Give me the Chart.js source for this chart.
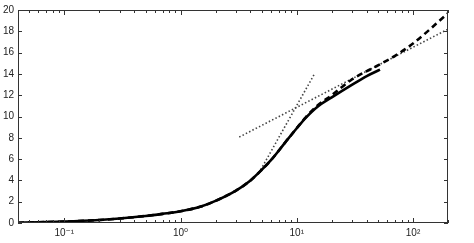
<!DOCTYPE html>
<html>
<head>
<meta charset="utf-8">
<script src="https://cdn.jsdelivr.net/npm/chart.js@4.4.1/dist/chart.umd.min.js"></script>
<style>
  html, body { margin: 0; padding: 0; background: #fff; }
  canvas { display: block; }
</style>
</head>
<body>
<canvas id="myChart" width="474" height="243"></canvas>
<script>
// values
const solidX = [0.04, 0.06, 0.1, 0.2, 0.3, 0.5, 0.7, 1, 1.5, 2, 3, 4, 5, 6, 8, 10, 12, 15, 20, 30, 40, 52];
const solidY = [0.03, 0.07, 0.13, 0.28, 0.42, 0.66, 0.86, 1.1, 1.55, 2.08, 3.05, 4.0, 5.0, 5.9, 7.6, 8.9, 9.9, 10.9, 11.8, 13.0, 13.8, 14.4];

const dashedX = [0.04, 0.06, 0.1, 0.2, 0.3, 0.5, 0.7, 1, 1.5, 2, 3, 4, 5, 6, 8, 10, 12, 15, 20, 30, 50, 70, 100, 200];
const dashedY = [0.03, 0.07, 0.13, 0.28, 0.42, 0.66, 0.86, 1.1, 1.55, 2.08, 3.05, 4.0, 5.0, 5.9, 7.6, 8.9, 9.95, 11.0, 12.0, 13.5, 14.8, 15.7, 16.85, 19.7];

const steepX = [4.9, 14.2];
const steepY = [5.0, 14.0];

const shallowX = [3.2, 200];
const shallowY = [8.07, 18.2];

const xTicks = [0.1, 1, 10, 100];
const xTickLabels = ['10\u207B\u00B9', '10\u2070', '10\u00B9', '10\u00B2'];

function pts(xs, ys) {
  return xs.map((x, i) => ({ x: x, y: ys[i] }));
}

const frame = {
  id: 'frame',
  afterDraw(chart) {
    const ctx = chart.ctx;
    const a = chart.chartArea;
    const xs = chart.scales.x;
    const ys = chart.scales.y;
    ctx.save();
    ctx.strokeStyle = '#333';
    ctx.lineWidth = 1;
    ctx.beginPath();
    // y ticks, both sides
    for (let v = 0; v <= 20; v += 2) {
      const py = Math.round(ys.getPixelForValue(v)) + 0.5;
      ctx.moveTo(a.left, py); ctx.lineTo(a.left + 4, py);
      ctx.moveTo(a.right, py); ctx.lineTo(a.right - 4, py);
    }
    // x ticks, major and minor, top and bottom
    for (let d = 0.01; d <= 100; d *= 10) {
      for (let k = 1; k <= 9; k++) {
        const v = k * d;
        if (v < xs.min || v > xs.max) continue;
        const px = Math.round(xs.getPixelForValue(v)) + 0.5;
        const len = k === 1 ? 5 : 3;
        ctx.moveTo(px, a.bottom); ctx.lineTo(px, a.bottom - len);
        ctx.moveTo(px, a.top); ctx.lineTo(px, a.top + len);
      }
    }
    ctx.stroke();
    ctx.strokeRect(Math.round(a.left) + 0.5, Math.round(a.top) + 0.5,
      Math.round(a.right - a.left) - 1, Math.round(a.bottom - a.top) - 1);
    ctx.restore();
  }
};

const ctx = document.getElementById('myChart').getContext('2d');
const myChart = new Chart(ctx, {
  type: 'line',
  data: {
    datasets: [
      {
        label: 'dashed',
        data: pts(dashedX, dashedY),
        borderColor: '#000',
        borderWidth: 2.6,
        borderDash: [6, 4],
        cubicInterpolationMode: 'monotone'
      },
      {
        label: 'solid',
        data: pts(solidX, solidY),
        borderColor: '#000',
        borderWidth: 2.6,
        cubicInterpolationMode: 'monotone'
      },
      {
        label: 'steep',
        data: pts(steepX, steepY),
        borderColor: '#444',
        borderWidth: 1.6,
        borderDash: [1.5, 2.2]
      },
      {
        label: 'shallow',
        data: pts(shallowX, shallowY),
        borderColor: '#444',
        borderWidth: 1.6,
        borderDash: [1.5, 2.2]
      }
    ]
  },
  options: {
    responsive: false,
    animation: false,
    devicePixelRatio: 1,
    layout: { padding: { top: 9, right: 26, left: 0, bottom: 0 } },
    elements: { point: { radius: 0 } },
    plugins: { legend: { display: false }, tooltip: { enabled: false } },
    scales: {
      x: {
        type: 'logarithmic',
        min: 0.04,
        max: 200,
        grid: { display: false, drawTicks: false },
        border: { display: false },
        afterBuildTicks: (scale) => { scale.ticks = xTicks.map(v => ({ value: v })); },
        afterFit: (scale) => { scale.height = 20; },
        ticks: {
          autoSkip: false,
          maxRotation: 0,
          padding: 4,
          color: '#222',
          font: { family: 'Liberation Sans, DejaVu Sans, sans-serif', size: 10 },
          callback: (v) => {
            const i = xTicks.indexOf(v);
            return i >= 0 ? xTickLabels[i] : '';
          }
        }
      },
      y: {
        min: 0,
        max: 20,
        grid: { display: false, drawTicks: false },
        border: { display: false },
        afterFit: (scale) => { scale.width = 18; },
        ticks: {
          stepSize: 2,
          padding: 4,
          color: '#222',
          font: { family: 'Liberation Sans, DejaVu Sans, sans-serif', size: 10 }
        }
      }
    }
  },
  plugins: [frame]
});
</script>
</body>
</html>
